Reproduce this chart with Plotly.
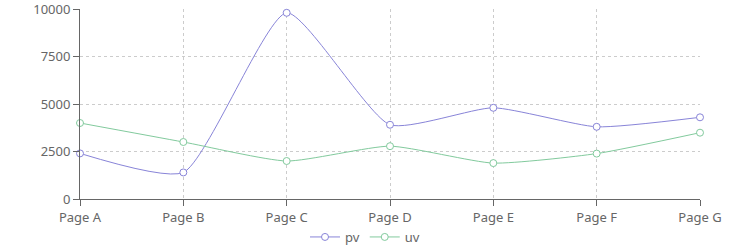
import plotly.graph_objects as go

pages = ["Page A", "Page B", "Page C", "Page D", "Page E", "Page F", "Page G"]
pv = [2400, 1398, 9800, 3908, 4800, 3800, 4300]
uv = [4000, 3000, 2000, 2780, 1890, 2390, 3490]
y_ticks = [0, 2500, 5000, 7500, 10000]
y_tick_labels = ["0", "2500", "5000", "7500", "10000"]

fig = go.Figure()
for name, vals, color in [("pv", pv, "#8884d8"), ("uv", uv, "#82ca9d")]:
    fig.add_trace(go.Scatter(
        x=list(range(len(pages))), y=vals, name=name, mode="lines+markers",
        line=dict(color=color, width=1, shape="spline", smoothing=0.55),
        marker=dict(size=7, color="white", line=dict(color=color, width=1)),
        cliponaxis=False,
    ))

fig.update_layout(
    width=730, height=250,
    margin=dict(l=80, r=30, t=9, b=51, autoexpand=False),
    paper_bgcolor="white", plot_bgcolor="white",
    font=dict(family="Noto Sans, Lato, sans-serif", size=13, color="#666"),
    showlegend=True,
    legend=dict(orientation="h", x=0.5, xanchor="center", xref="container",
                y=13 / 250, yanchor="middle", yref="container",
                bgcolor="rgba(0,0,0,0)",
                font=dict(size=13, color="#666"), itemwidth=30),
    xaxis=dict(
        tickmode="array", tickvals=list(range(len(pages))), ticktext=pages,
        range=[0, len(pages) - 1], showline=True, linecolor="#666", linewidth=1,
        ticks="outside", ticklen=6, tickcolor="#666", ticklabeloverflow="allow",
        showgrid=True, gridcolor="#ccc", griddash="3px,3px", gridwidth=1,
        zeroline=False, fixedrange=True, automargin=False,
    ),
    yaxis=dict(
        tickmode="array", tickvals=y_ticks, ticktext=y_tick_labels, range=[0, 10000],
        showline=True, linecolor="#666", linewidth=1,
        ticks="outside", ticklen=6, tickcolor="#666", ticklabeloverflow="allow",
        showgrid=True, gridcolor="#ccc", griddash="3px,3px", gridwidth=1,
        zeroline=False, fixedrange=True, automargin=False,
    ),
)
fig.write_html("out.html")
